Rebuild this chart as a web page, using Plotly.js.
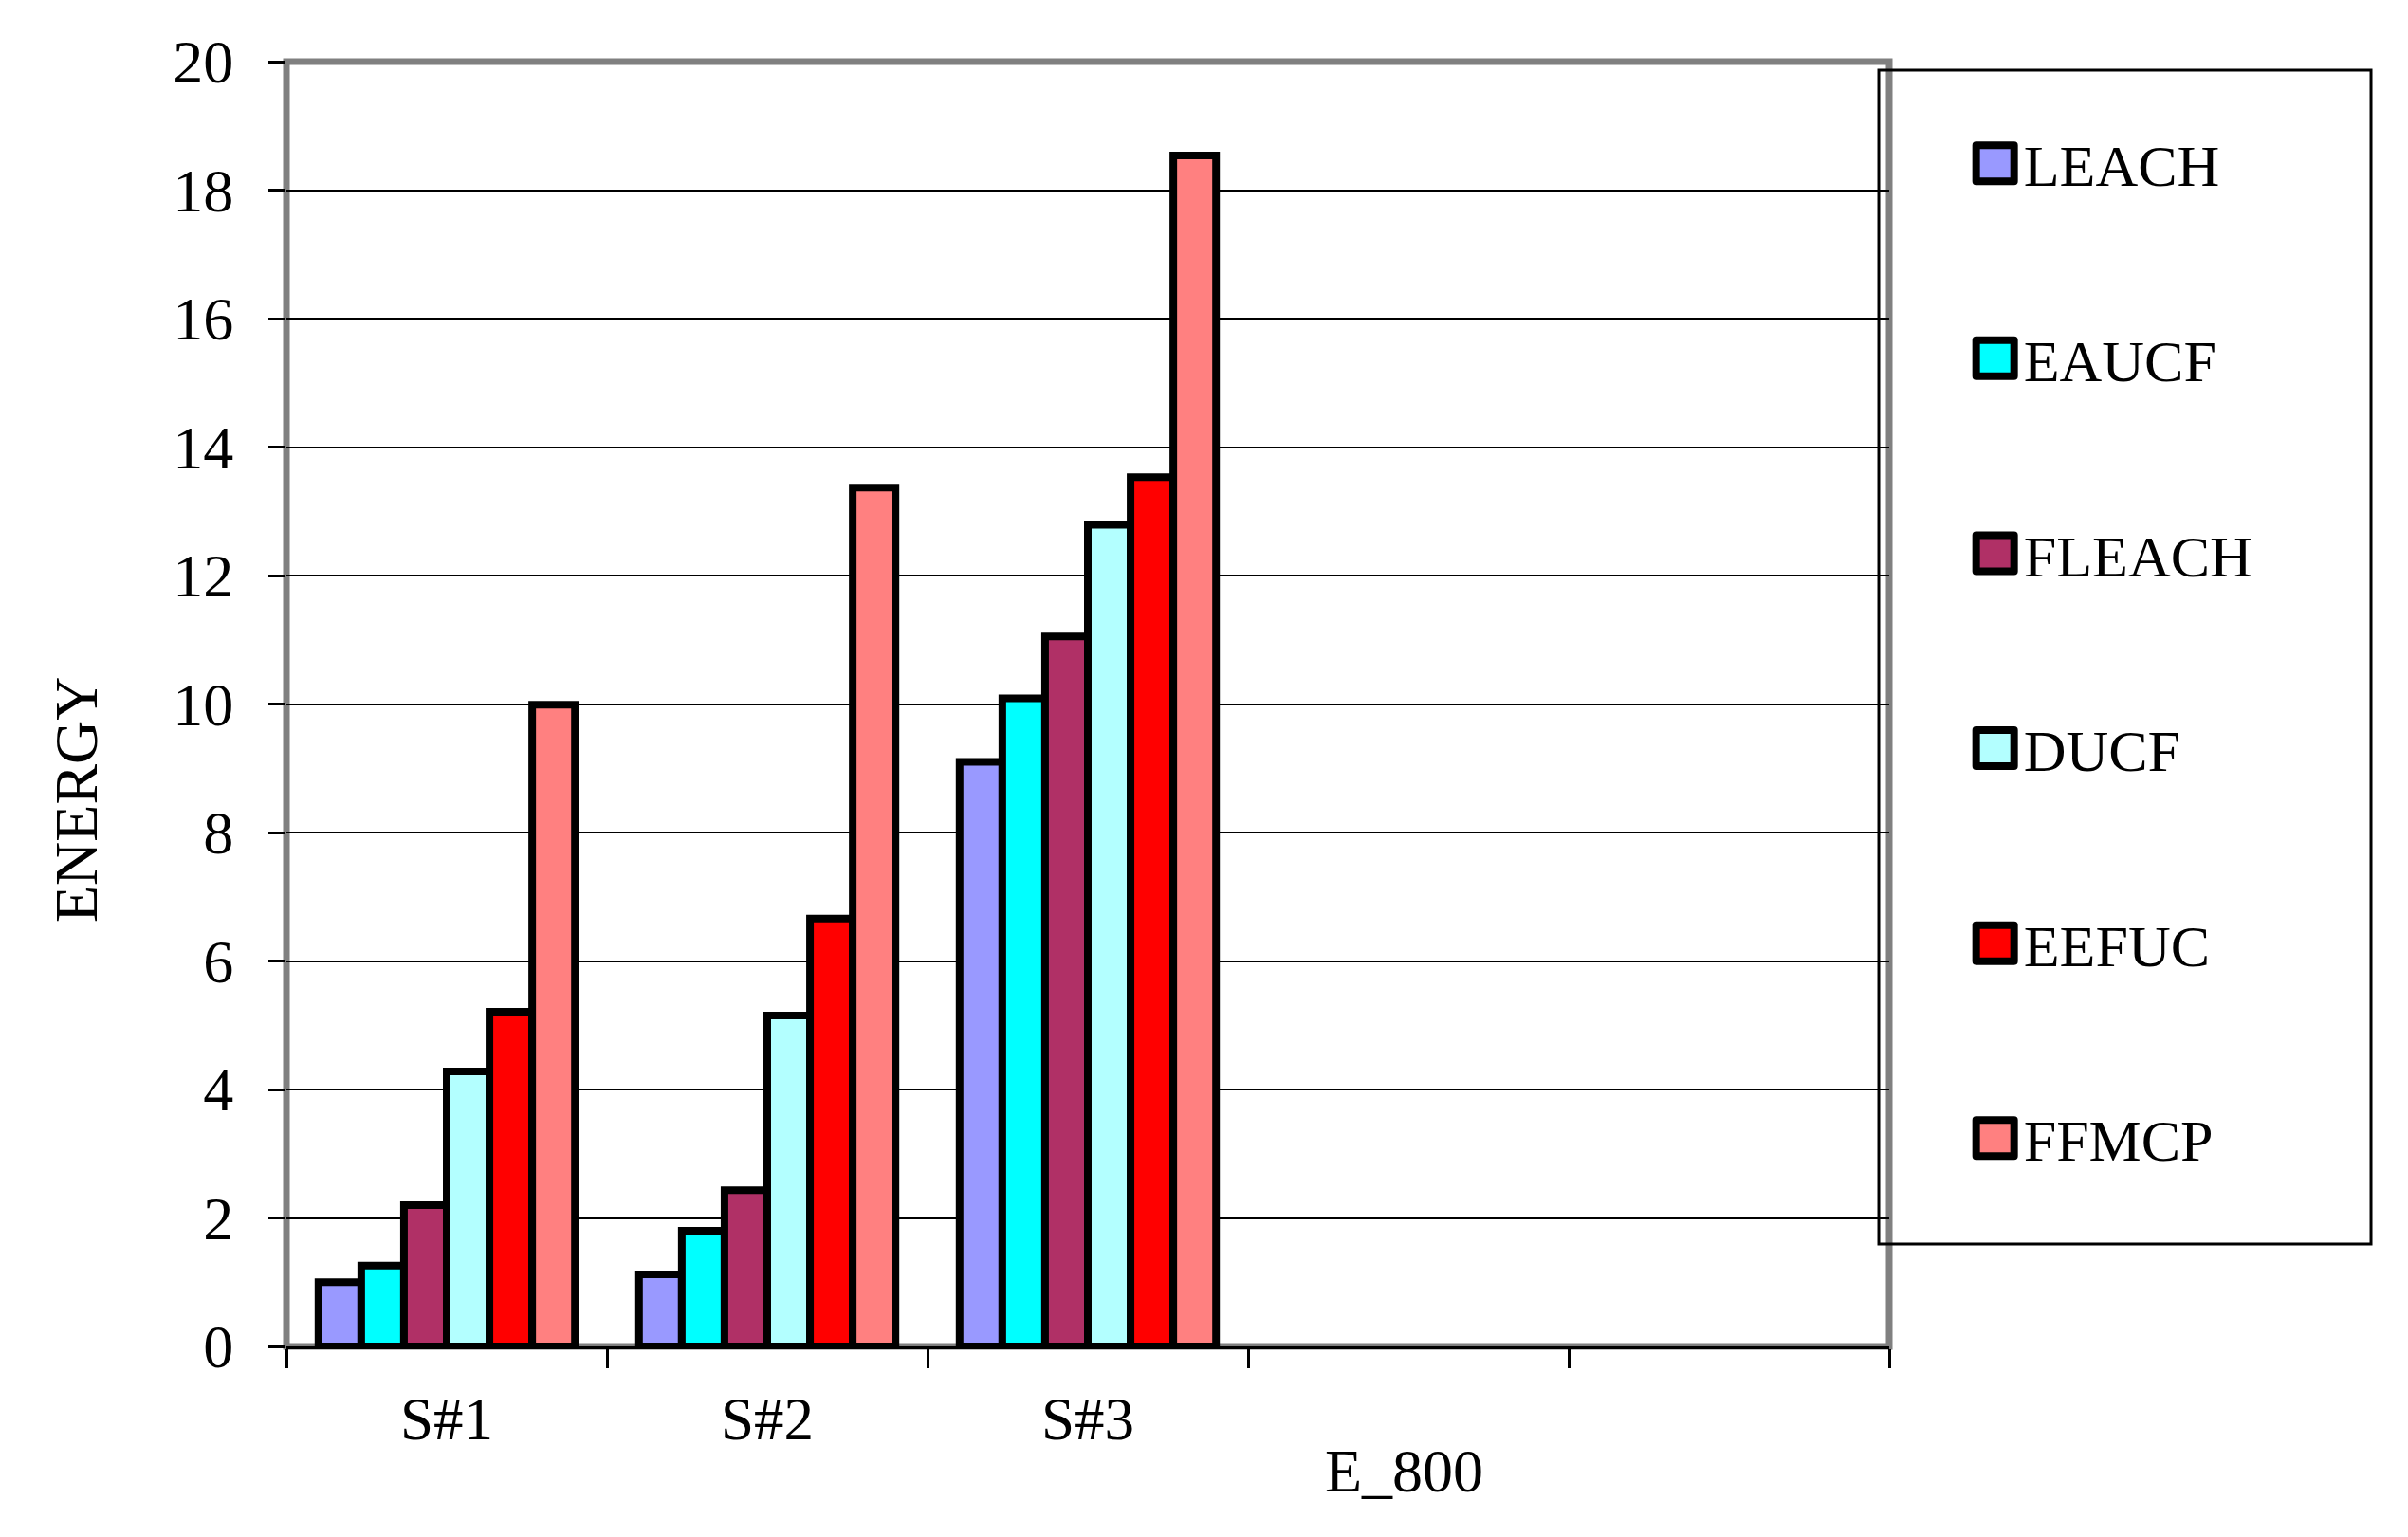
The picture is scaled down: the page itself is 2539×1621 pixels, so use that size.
<!DOCTYPE html>
<html>
<head>
<meta charset="utf-8">
<script src="https://cdn.plot.ly/plotly-3.0.1.min.js"></script>
<style>html,body{margin:0;padding:0;background:#fff;}</style>
</head>
<body>
<div id="chart" style="width:2539px;height:1621px;"></div>
<script>
// Categories (two trailing empty slots as in the original chart)
const categories = ['S#1', 'S#2', 'S#3'];
const emptySlots = [' ', '  '];

// Series values (ENERGY)
const LEACH  = [1.00, 1.12, 9.10];
const EAUCF  = [1.26, 1.80, 10.09];
const FLEACH = [2.20, 2.43, 11.05];
const DUCF   = [4.28, 5.15, 12.79];
const EEFUC  = [5.21, 6.66, 13.53];
const FFMCP  = [9.99, 13.37, 18.54];

const seriesNames  = ['LEACH', 'EAUCF', 'FLEACH', 'DUCF', 'EEFUC', 'FFMCP'];
const seriesValues = [LEACH, EAUCF, FLEACH, DUCF, EEFUC, FFMCP];
const seriesColors = ['#9999FF', '#00FFFF', '#B03066', '#B3FFFF', '#FF0000', '#FF8080'];

const yTickVals = [0, 2, 4, 6, 8, 10, 12, 14, 16, 18, 20];

const FONT = 'Liberation Serif, Times New Roman, serif';

const traces = seriesNames.map((name, i) => ({
  type: 'bar',
  name: name,
  legendgroup: name,
  x: categories,
  y: seriesValues[i],
  marker: { color: seriesColors[i], line: { color: '#000000', width: 8 } },
  hoverinfo: 'x+y+name'
}));

const layout = {
  width: 2539,
  height: 1621,
  paper_bgcolor: '#ffffff',
  plot_bgcolor: '#ffffff',
  margin: { l: 302, r: 547, t: 65, b: 201, pad: 0 },
  font: { family: FONT, size: 62, color: '#000000' },
  barmode: 'group',
  bargap: 0.2,
  bargroupgap: 0,
  showlegend: true,
  legend: {
    xref: 'container', yref: 'container',
    x: 0.8246, y: 0.9226, xanchor: 'left', yanchor: 'top',
    maxheight: 1500,
    font: { family: FONT, size: 62, color: '#000000' },
    bgcolor: 'rgba(0,0,0,0)',
    borderwidth: 0,
    traceorder: 'grouped',
    tracegroupgap: 122
  },
  xaxis: {
    type: 'category',
    categoryorder: 'array',
    categoryarray: categories.concat(emptySlots),
    range: [-0.5, categories.length + emptySlots.length - 0.5],
    tickson: 'boundaries',
    ticks: 'outside',
    ticklen: 20,
    tickwidth: 3,
    tickcolor: '#000000',
    showgrid: false,
    showline: true,
    linecolor: '#000000',
    linewidth: 3,
    layer: 'below traces',
    ticklabelstandoff: 19,
    tickfont: { family: FONT, size: 63, color: '#000000' }
  },
  yaxis: {
    range: [0, 20],
    tickmode: 'array',
    tickvals: yTickVals,
    ticktext: yTickVals.map(String),
    ticks: 'outside',
    ticklen: 18,
    tickwidth: 3,
    tickcolor: '#000000',
    showgrid: true,
    gridcolor: '#000000',
    gridwidth: 2,
    zeroline: false,
    showline: false,
    ticklabelstandoff: 24,
    tickfont: { family: FONT, size: 64, color: '#000000' }
  },
  shapes: [
    // plot-area frame (gray)
    { type: 'rect', xref: 'paper', yref: 'paper', x0: 0, x1: 1, y0: 0, y1: 1,
      line: { color: '#808080', width: 7 }, fillcolor: 'rgba(0,0,0,0)', layer: 'between' },
    // legend box
    { type: 'rect', xref: 'paper', yref: 'paper', x0: 0.9935, x1: 1.3006, y0: 0.0797, y1: 0.9934,
      line: { color: '#000000', width: 3 }, fillcolor: 'rgba(0,0,0,0)', layer: 'above' }
  ],
  annotations: [
    { text: 'ENERGY', xref: 'paper', yref: 'paper', x: -0.1314, y: 0.4258,
      xanchor: 'center', yanchor: 'middle', textangle: -90, showarrow: false,
      font: { family: FONT, size: 64, color: '#000000' } },
    { text: 'E_800', xref: 'paper', yref: 'paper', x: 0.6976, y: -0.0967,
      xanchor: 'center', yanchor: 'middle', showarrow: false,
      font: { family: FONT, size: 64, color: '#000000' } }
  ]
};

function enlargeSwatches(gd) {
  const leg = gd.querySelector('.legend');
  if (!leg) return;
  leg.removeAttribute('clip-path');
  leg.querySelectorAll('[clip-path]').forEach(el => el.removeAttribute('clip-path'));
  leg.querySelectorAll('.legendpoints path').forEach(p => {
    p.setAttribute('d', 'M10,19H-30V-19H10Z');
    p.style.strokeWidth = '8px';
    p.style.stroke = '#000000';
    p.style.strokeLinejoin = 'round';
  });
}

Plotly.newPlot('chart', traces, layout, { staticPlot: true, displayModeBar: false }).then(gd => {
  enlargeSwatches(gd);
  setTimeout(() => enlargeSwatches(gd), 50);
});
</script>
</body>
</html>
